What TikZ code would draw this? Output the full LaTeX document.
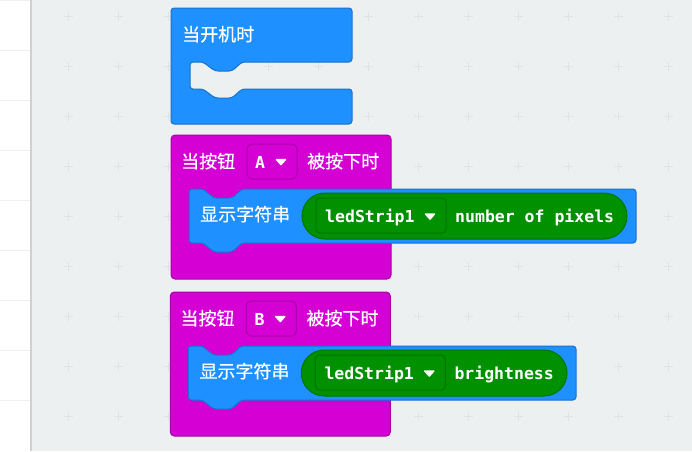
\documentclass[tikz,border=0pt]{standalone}
\usepackage{fontspec}
\newfontfamily\cjk[FakeBold=0.5]{Noto Sans CJK SC}
\setmonofont{DejaVu Sans Mono}
\definecolor{workbg}{HTML}{ECF0F1}
\definecolor{gridmark}{HTML}{DFE3E5}
\definecolor{loopblue}{HTML}{1E90FF}
\definecolor{loopblueline}{HTML}{1873CC}
\definecolor{inputpink}{HTML}{D400D4}
\definecolor{inputpinkline}{HTML}{AA00AA}
\definecolor{stripgreen}{HTML}{009000}
\definecolor{stripgreenline}{HTML}{007300}
\tikzset{
  cjktext/.style={anchor=base west,inner sep=0pt,text=white,font=\cjk\fontsize{18}{20}\selectfont},
  monotext/.style={anchor=base west,inner sep=0pt,text=white,font=\ttfamily\bfseries\fontsize{16.5}{20}\selectfont},
  arrowdown/.style={fill=white,draw=white,line width=1.5pt,line join=round},
  loopshape/.style={fill=loopblue,draw=loopblueline,line width=1pt,rounded corners=3pt},
  pinkshape/.style={fill=inputpink,draw=inputpinkline,line width=1pt},
  greenshape/.style={fill=stripgreen,draw=stripgreenline,line width=1pt}
}
\newcommand{\dropmark}[2]
{   \draw[arrowdown] (#1,#2) -- ({#1+9},#2) -- ({#1+4.5},{#2+5}) -- cycle;
}
% #1 name, #2 key letter, #3 right end of blue block, #4 right end of pill, #5 property
\newcommand{\buttonblock}[5]
{   \draw[pinkshape,rounded corners=4pt] (171,135) rectangle (391,279);
    \draw[pinkshape,rounded corners=5pt] (247,144) rectangle (297,179);
    \node[cjktext] (#1on) at (181,168) {当按钮};
    \node[monotext] (#1key) at (255,168) {#2};
    \dropmark{276.5}{159.5}
    \node[cjktext] (#1off) at (307,168) {被按下时};
    \draw[loopshape] (189,189) -- (203,189) -- (214,198) -- (232,198) -- (242,189)
      -- (#3,189) -- (#3,243) -- (242,243) -- (232,252) -- (214,252) -- (203,243) -- (189,243) -- cycle;
    \node[cjktext] (#1show) at (200,221) {显示字符串};
    \draw[greenshape,rounded corners=23pt] (302,193) rectangle (#4,239);
    \draw[greenshape,rounded corners=4pt] (316,198) rectangle (446,233);
    \node[monotext] (#1strip) at (325,222) {ledStrip1};
    \dropmark{425.5}{214}
    \node[monotext] (#1prop) at (455,222) {#5};
}
\begin{document}
\begin{tikzpicture}[x=1pt,y=-1pt]
 \useasboundingbox (0,0) rectangle (692,451);
 \fill[workbg] (0,0) rectangle (692,451);
 % list on the left
 \fill[white] (0,0) rectangle (30,451);
 \fill[black!18] (30,0) rectangle (31.5,451);
 \foreach \y in {0,50,...,400}
   \draw[workbg,line width=1pt] (0,{\y+0.5}) -- (30,{\y+0.5});
 \foreach \x in {68,118,...,668}
   \foreach \y in {16,66,...,416}
     \draw[gridmark,line width=1pt] ({\x-4.5},\y) -- ({\x+4.5},\y) (\x,{\y-4.5}) -- (\x,{\y+4.5});

 \draw[loopshape] (171,8) -- (352,8) -- (352,62) -- (242,62) -- (232,71) -- (215,71) -- (203,62)
   -- (190,62) -- (190,89) -- (203,89) -- (215,98) -- (232,98) -- (242,89) -- (352,89) -- (352,124) -- (171,124) -- cycle;
 \node[cjktext] (start) at (182,41) {当开机时};

 \buttonblock{a}{A}{636}{627}{number of pixels}
 \begin{scope}[shift={(-0.7,157)}]
   \buttonblock{b}{B}{576.7}{567.7}{brightness}
 \end{scope}
\end{tikzpicture}
\end{document}
